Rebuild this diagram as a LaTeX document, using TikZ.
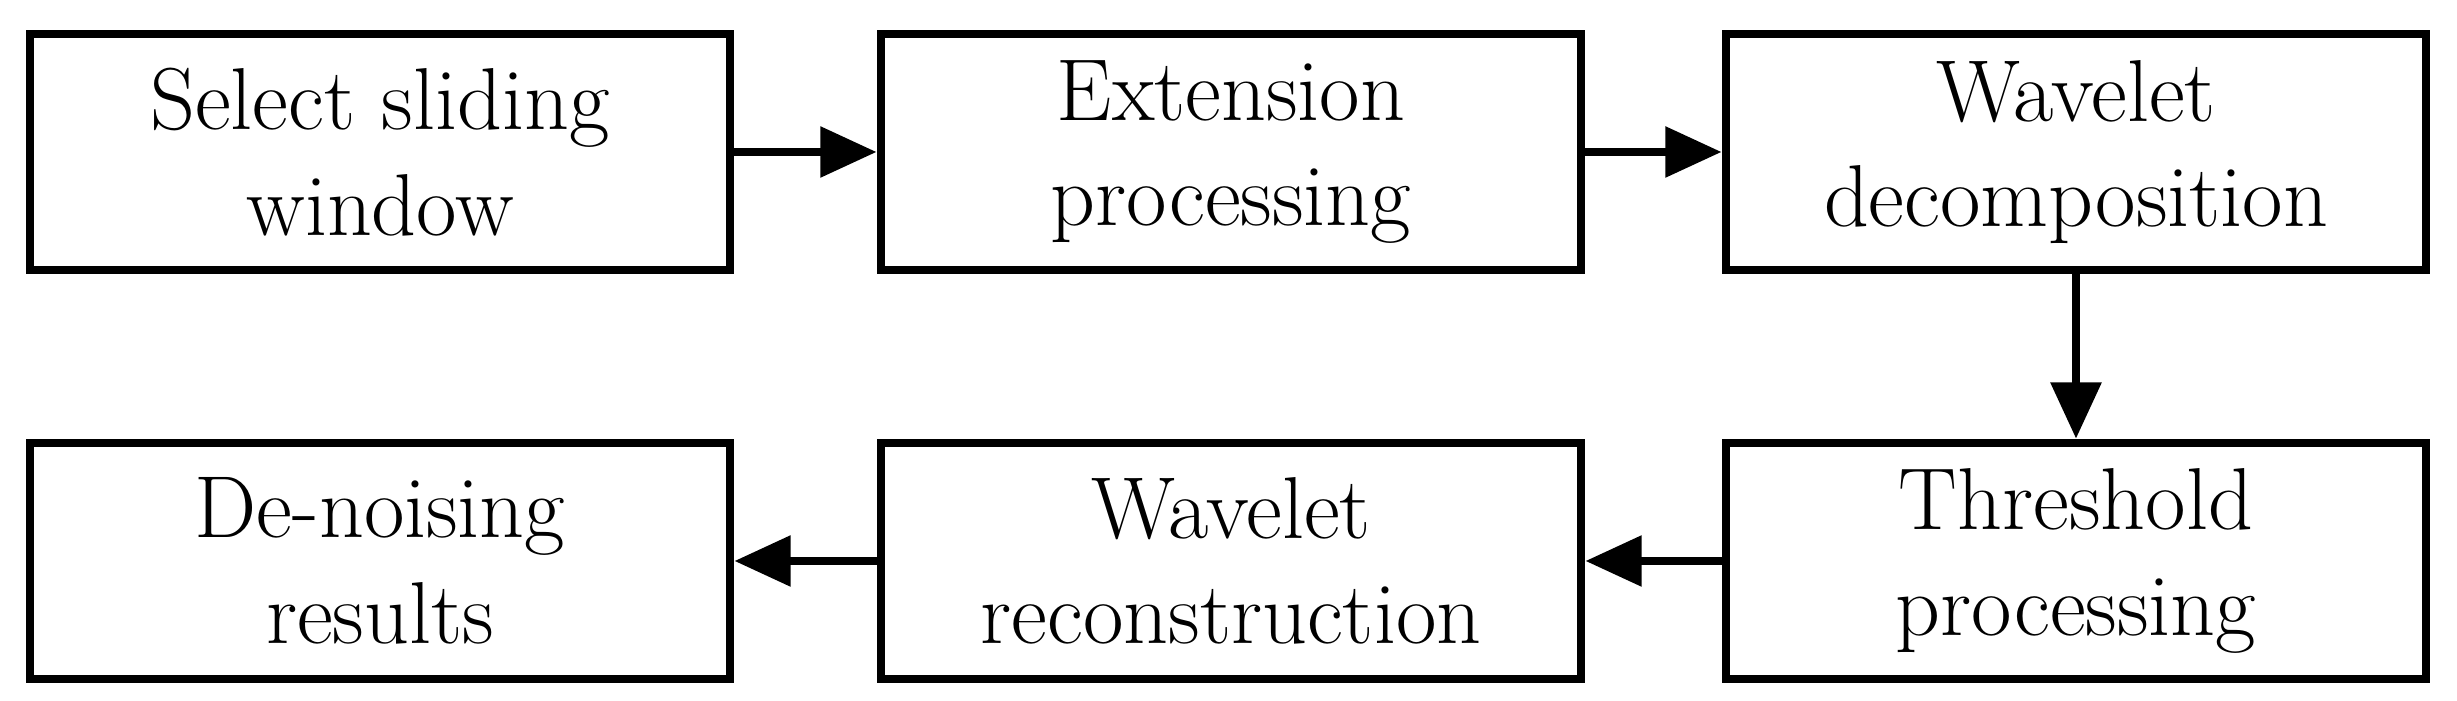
\documentclass[tikz,border=0pt]{standalone}
\usetikzlibrary{arrows.meta}
\begin{document}
\begin{tikzpicture}[x=0.01cm,y=-0.01cm,
  box/.style={draw,line width=2.4pt,minimum width=7cm,minimum height=2.36cm,align=center,inner sep=0pt,font=\fontsize{25}{30}\selectfont},
  arr/.style={line width=2.4pt,-{Triangle[length=16pt,width=14pt]}}]
\useasboundingbox (0,0) rectangle (2457,701);
\node[box] (a) at (380,152) {Select sliding\\window};
\node[box] (b) at (1231,152) {Extension\\processing};
\node[box] (c) at (2076,152) {Wavelet\\decomposition};
\node[box] (d) at (2076,561) {Threshold\\processing};
\node[box] (e) at (1231,561) {Wavelet\\reconstruction};
\node[box] (f) at (380,561) {De-noising\\results};
\draw[arr] (a) -- (b);
\draw[arr] (b) -- (c);
\draw[arr] (c) -- (d);
\draw[arr] (d) -- (e);
\draw[arr] (e) -- (f);
\end{tikzpicture}
\end{document}
